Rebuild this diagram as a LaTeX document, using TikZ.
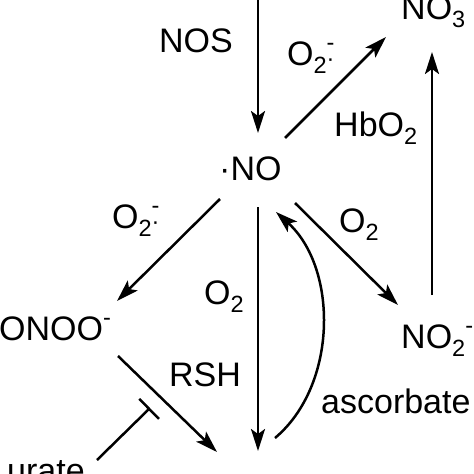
\documentclass[tikz,border=0pt]{standalone}
\usepackage{fontspec}
\setmainfont{Liberation Sans}
\usetikzlibrary{arrows.meta}
\newcommand{\subs}[1]{\raisebox{-8pt}{\fontsize{23.5}{23.5}\selectfont #1}}
\newcommand{\sups}[1]{\raisebox{15pt}{\fontsize{23.5}{23.5}\selectfont #1}}
\newcommand{\supox}{O\subs{2}\rlap{\sups{-}}\raisebox{-1pt}{\fontsize{23.5}{23.5}\selectfont ·}}
\begin{document}
\begin{tikzpicture}[x=1pt,y=-1pt,
  lbl/.style={anchor=base west,inner sep=0pt,font=\fontsize{34}{34}\selectfont},
  conn/.style={line width=2.5pt,-{Stealth[length=22pt,width=14pt,inset=5pt]}},
  inhib/.style={line width=2.5pt,-{Bar[width=28pt,line width=2.5pt]}}]
\useasboundingbox (0,0) rectangle (474,474);
\clip (0,0) rectangle (474,474);
\fill[white] (0,0) rectangle (474,474);
% labels
\node[lbl] (nos) at (159,52) {NOS};
\node[lbl] (no3) at (401,19) {NO\subs{3}\sups{-}};
\node[lbl] (ox1) at (287,65) {\supox};
\node[lbl] (hbo) at (334,136) {HbO\subs{2}};
\node[lbl] (no) at (219,180) {·NO};
\node[lbl] (ox2) at (112,228) {\supox};
\node[lbl] (o2r) at (339,232) {O\subs{2}};
\node[lbl] (o2v) at (204,304) {O\subs{2}};
\node[lbl] (onoo) at (-1,340) {ONOO\sups{-}};
\node[lbl] (no2) at (401,348) {NO\subs{2}\sups{-}};
\node[lbl] (rsh) at (169,386) {RSH};
\node[lbl] (asc) at (321,413) {ascorbate};
\node[lbl] (urate) at (7,482) {urate};
% connector ends
\coordinate (nosA) at (258,-2);
\coordinate (nosB) at (258,133);
\coordinate (n3A) at (285,138);
\coordinate (n3B) at (386,37);
\coordinate (n2A) at (432,295);
\coordinate (n2B) at (432,52);
\coordinate (lA) at (220,199);
\coordinate (lB) at (117,301);
\coordinate (rA) at (295,203);
\coordinate (rB) at (398,305);
\coordinate (vA) at (258,207);
\coordinate (vB) at (258,451);
\coordinate (cA) at (275,438);
\coordinate (cB) at (276,212);
\coordinate (oA) at (118,356);
\coordinate (oB) at (217,452);
\coordinate (uA) at (97,460);
\coordinate (uB) at (150,408);
% connectors
\draw[conn] (nosA) -- (nosB);
\draw[conn] (n3A) -- (n3B);
\draw[conn] (n2A) -- (n2B);
\draw[conn] (lA) -- (lB);
\draw[conn] (rA) -- (rB);
\draw[conn] (vA) -- (vB);
\draw[conn] (cA) .. controls (338,385) and (338,268) .. (cB);
\draw[conn] (oA) -- (oB);
\draw[inhib] (uA) -- (uB);
\end{tikzpicture}
\end{document}
